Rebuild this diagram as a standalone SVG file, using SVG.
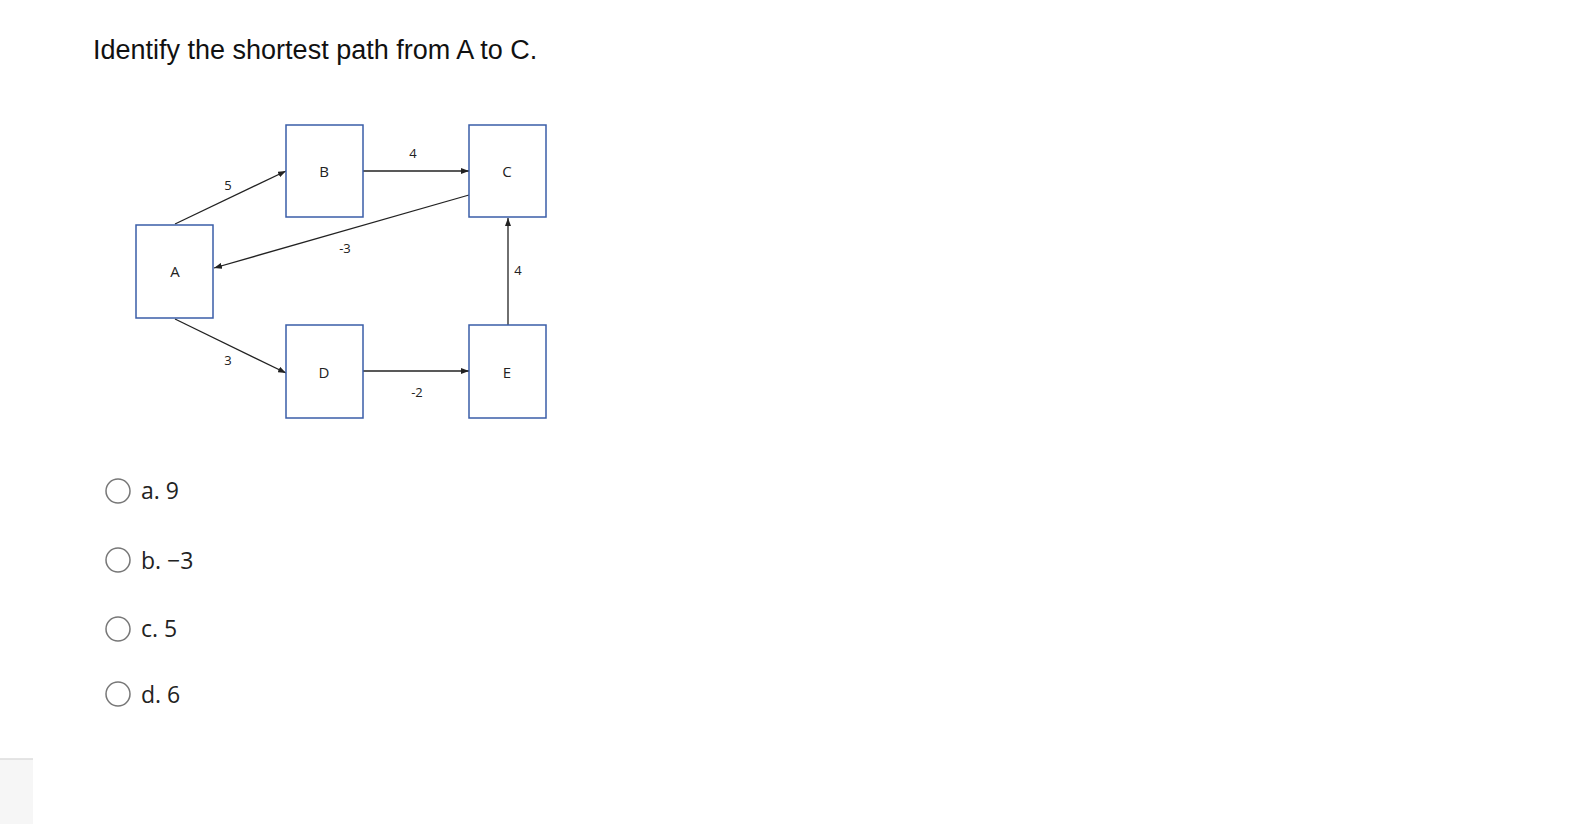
<svg xmlns="http://www.w3.org/2000/svg" width="1584" height="824" viewBox="0 0 1584 824">
<style>
.n{fill:#fff;stroke:#3a5da8;stroke-width:1.5}
.t{font-family:"Open Sans","DejaVu Sans",sans-serif;font-size:15px;fill:#222;text-anchor:middle}
.l{font-family:"Open Sans","DejaVu Sans",sans-serif;font-size:13px;fill:#222;text-anchor:middle}
.e{stroke:#222;stroke-width:1.3;fill:none;marker-end:url(#ar)}
.o{font-family:"Open Sans","Noto Sans",sans-serif;font-size:23px;fill:#222}
.r{fill:#fff;stroke:#777;stroke-width:1.5}
</style>
<defs><marker id="ar" markerWidth="8" markerHeight="6" refX="8" refY="3" orient="auto" markerUnits="userSpaceOnUse"><path d="M0,0L8,3L0,6z" fill="#222"/></marker></defs>
<rect width="1584" height="824" fill="#fff"/>
<text x="93" y="59" font-family="'Liberation Sans',Arial,sans-serif" font-size="27" fill="#111">Identify the shortest path from A to C.</text>
<g id="connectors">
<line class="e" x1="175" y1="224" x2="286" y2="171"/>
<line class="e" x1="363" y1="171" x2="469" y2="171"/>
<line class="e" x1="469" y1="195" x2="214" y2="268"/>
<line class="e" x1="175" y1="319" x2="286" y2="373"/>
<line class="e" x1="363" y1="371" x2="469" y2="371"/>
<line class="e" x1="508" y1="325" x2="508" y2="218"/>
<text class="l" x="228" y="190">5</text>
<text class="l" x="413" y="158">4</text>
<text class="l" x="345" y="253">-3</text>
<text class="l" x="518" y="275">4</text>
<text class="l" x="228" y="365">3</text>
<text class="l" x="417" y="397">-2</text>
</g>
<g id="A"><rect class="n" x="136" y="225" width="77" height="93"/><text class="t" x="175" y="277">A</text></g>
<g id="B"><rect class="n" x="286" y="125" width="77" height="92"/><text class="t" x="324" y="177">B</text></g>
<g id="C"><rect class="n" x="469" y="125" width="77" height="92"/><text class="t" x="507" y="177">C</text></g>
<g id="D"><rect class="n" x="286" y="325" width="77" height="93"/><text class="t" x="324" y="378">D</text></g>
<g id="E"><rect class="n" x="469" y="325" width="77" height="93"/><text class="t" x="507" y="378">E</text></g>
<circle class="r" cx="118" cy="491" r="12"/><text class="o" x="141" y="499">a. 9</text>
<circle class="r" cx="118" cy="560" r="12"/><text class="o" x="141" y="569">b. −3</text>
<circle class="r" cx="118" cy="629" r="12"/><text class="o" x="141" y="637">c. 5</text>
<circle class="r" cx="118" cy="694" r="12"/><text class="o" x="141" y="703">d. 6</text>
<rect x="0" y="759" width="33" height="65" fill="#f6f6f6"/>
<line x1="0" y1="759" x2="33" y2="759" stroke="#ddd" stroke-width="1.5"/>
</svg>
